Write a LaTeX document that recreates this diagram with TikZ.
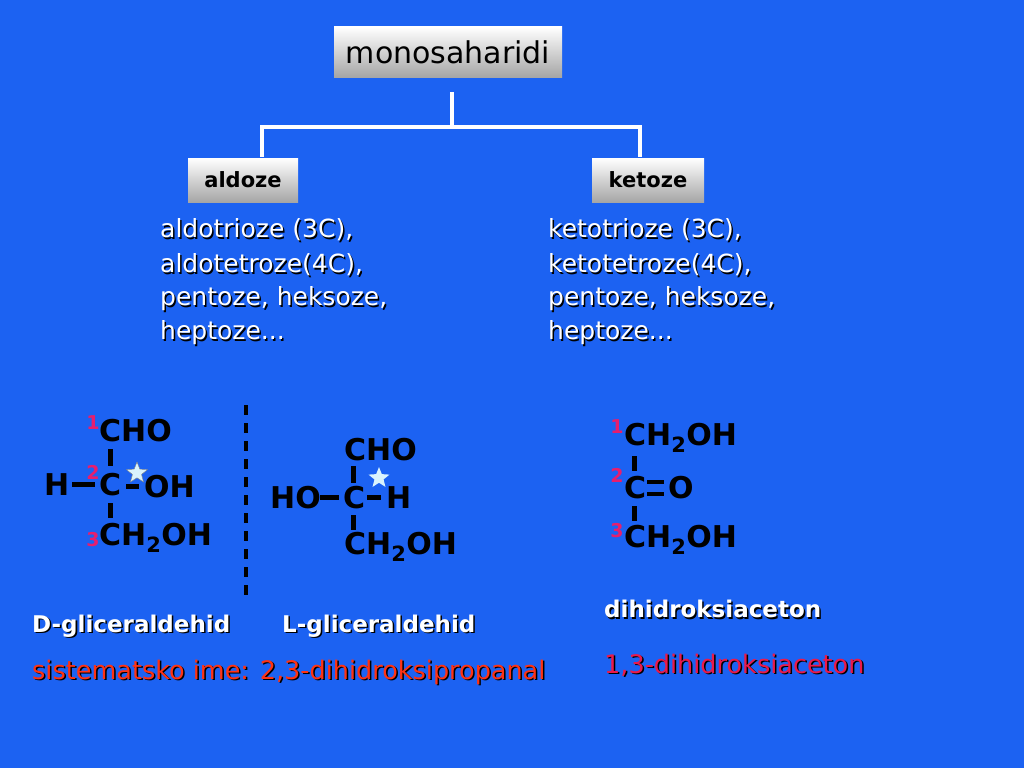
\documentclass[tikz,border=0pt]{standalone}
\usepackage{fontspec}
\setmainfont{DejaVu Sans}
\usetikzlibrary{shapes.geometric}
\definecolor{bg}{RGB}{28,98,242}
\definecolor{numc}{RGB}{230,30,110}
\definecolor{redc}{RGB}{255,50,20}
\definecolor{magc}{RGB}{235,25,75}
\newcommand\shtext[5]{% name, x, y, style, text
  \node[#4,text=black,anchor=west] at (#2+1.5,#3+1.5) {#5};
  \node[#4,anchor=west] (#1) at (#2,#3) {#5};}
\tikzset{
  lst/.style={font=\fontsize{25}{27}\selectfont,text=white,inner sep=0},
  red/.style={font=\fontsize{25.5}{27}\selectfont,inner sep=0},
  lab/.style={font=\bfseries\fontsize{23}{25}\selectfont,text=white,inner sep=0},
  chem/.style={font=\bfseries\fontsize{30}{32}\selectfont,text=black,inner sep=0,anchor=west},
  num/.style={font=\bfseries\fontsize{19}{20}\selectfont,text=numc,inner sep=0},
  bond/.style={line width=5pt,black},
  tree/.style={line width=4pt,white},
  gbox/.style={top color=white,bottom color=gray!70,draw=none,inner sep=0,text=black},
  st/.style={star,star points=5,star point ratio=2.3,fill=white!85!cyan,draw=gray,inner sep=0,minimum size=22pt}
}
\begin{document}
\begin{tikzpicture}[x=1pt,y=-1pt]
\fill[bg] (0,0) rectangle (1024,768);
\useasboundingbox (0,0) rectangle (1024,768);
% title and tree
\node[gbox,minimum width=228,minimum height=50,font=\fontsize{30}{32}\selectfont] (mono) at (448,52) {monosaharidi};
\node[gbox,minimum width=110,minimum height=44,font=\bfseries\fontsize{21}{23}\selectfont] (ald) at (243,180) {aldoze};
\node[gbox,minimum width=112,minimum height=44,font=\bfseries\fontsize{21}{23}\selectfont] (ket) at (648,180) {ketoze};
\coordinate (t0) at (452,92);
\coordinate (t1) at (452,127);
\draw[tree] (t0) -- (t1);
\draw[tree,line join=miter] (262,157) -- (262,127) -- (640,127) -- (640,157);
% lists
\shtext{a1}{160}{230}{lst}{aldotrioze (3C),}
\shtext{a2}{160}{265}{lst}{aldotetroze(4C),}
\shtext{a3}{160}{299}{lst}{pentoze, heksoze,}
\shtext{a4}{160}{333}{lst}{heptoze...}
\shtext{k1}{548}{230}{lst}{ketotrioze (3C),}
\shtext{k2}{548}{265}{lst}{ketotetroze(4C),}
\shtext{k3}{548}{299}{lst}{pentoze, heksoze,}
\shtext{k4}{548}{333}{lst}{heptoze...}
% D-glyceraldehyde
\node[chem] (d1) at (99,431) {CHO};
\node[chem] (dh) at (44,485) {H};
\node[chem] (dc) at (99,485) {C};
\node[chem] (doh) at (144,487) {OH};
\node[chem] (d3) at (99,538) {CH\textsubscript{2}OH};
\node[num] at (93,423) {1};
\node[num] at (93,472) {2};
\node[num] at (93,540) {3};
\draw[bond] (110,449) -- (110,466);
\draw[bond] (110,503) -- (110,518);
\draw[bond] (72,484) -- (95,484);
\draw[bond] (126,486) -- (139,486);
\node[st] (ds) at (137,473) {};
% dashed
\draw[line width=3.5pt,dash pattern=on 10pt off 8pt] (246,405) -- (246,600);
% L-glyceraldehyde
\node[chem] (l1) at (344,450) {CHO};
\node[chem] (lho) at (270,498) {HO};
\node[chem] (lc) at (343,498) {C};
\node[chem] (lh) at (386,498) {H};
\node[chem] (l3) at (344,547) {CH\textsubscript{2}OH};
\draw[bond] (353,466) -- (353,483);
\draw[bond] (353,515) -- (353,530);
\draw[bond] (320,497) -- (339,497);
\draw[bond] (367,497) -- (381,497);
\node[st,draw=none] (ls) at (379,478) {};
% ketone
\node[chem] (k1c) at (624,438) {CH\textsubscript{2}OH};
\node[chem] (k2c) at (624,488) {C};
\node[chem] (ko) at (668,488) {O};
\node[chem] (k3c) at (624,540) {CH\textsubscript{2}OH};
\node[num] at (617,427) {1};
\node[num] at (617,475) {2};
\node[num] at (617,531) {3};
\draw[bond] (634,456) -- (634,471);
\draw[bond] (634,506) -- (634,521);
\draw[line width=4pt] (647,482) -- (664,482);
\draw[line width=4pt] (647,494) -- (664,494);
% labels
\shtext{dl}{32}{626}{lab}{D-gliceraldehid}
\shtext{ll}{282}{626}{lab}{L-gliceraldehid}
\shtext{si}{32}{672}{red,text=redc}{sistematsko ime: 2,3-dihidroksipropanal}
\shtext{dh2}{604}{609}{lab}{dihidroksiaceton}
\shtext{dh3}{604}{665}{red,text=magc}{1,3-dihidroksiaceton}
\end{tikzpicture}
\end{document}
